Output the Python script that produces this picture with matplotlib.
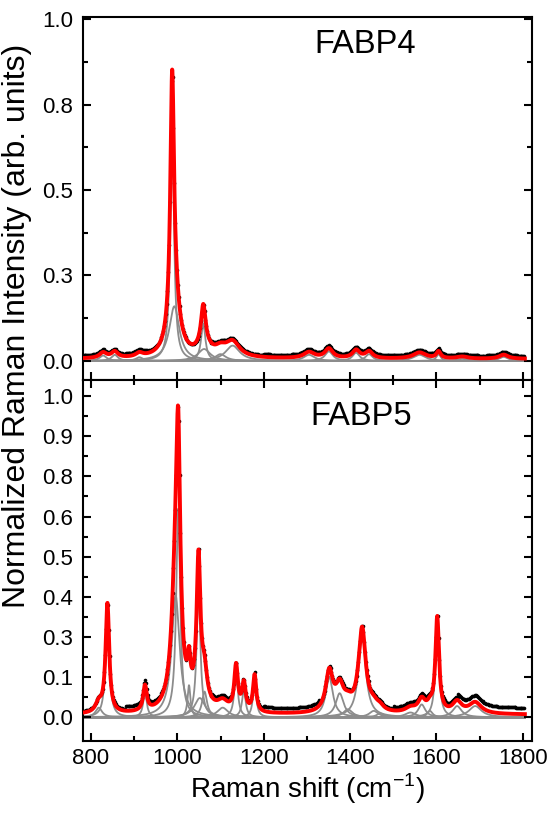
import numpy as np
import matplotlib
matplotlib.use("Agg")
import matplotlib.pyplot as plt
from matplotlib.ticker import FixedLocator, MultipleLocator

plt.rcParams['font.family'] = ['Liberation Sans', 'DejaVu Sans']

# ---------------- data ----------------
# Lorentzian components: centre (cm-1), height, FWHM (cm-1)
fabp4_centers = [828, 855, 912, 988, 993, 1060, 1062, 1100, 1128, 1305, 1351, 1414, 1444, 1561, 1605, 1660, 1756]
fabp4_heights = [0.016, 0.018, 0.011, 0.70, 0.16, 0.11, 0.035, 0.02, 0.045, 0.018, 0.028, 0.024, 0.02, 0.018, 0.02, 0.006, 0.012]
fabp4_widths = [20, 18, 20, 10, 28, 12, 35, 30, 40, 30, 22, 20, 20, 35, 12, 30, 25]
fabp4_baseline = 0.006

fabp5_centers = [818, 838, 925, 996, 1002, 1027, 1049, 1052, 1063, 1105, 1136, 1154, 1179,
                 1352, 1376, 1395, 1428, 1455, 1470, 1540, 1566, 1585, 1602, 1648, 1690]
fabp5_heights = [0.03, 0.34, 0.078, 0.38, 0.65, 0.10, 0.41, 0.06, 0.08, 0.03, 0.14, 0.085, 0.115,
                 0.125, 0.075, 0.025, 0.26, 0.02, 0.012, 0.015, 0.04, 0.02, 0.295, 0.035, 0.035]
fabp5_widths = [18, 10, 10, 22, 11, 8, 10, 30, 14, 30, 10, 10, 9,
                20, 22, 25, 20, 25, 20, 30, 20, 15, 10, 25, 35]
fabp5_baseline = 0.008

# measured points lie slightly above the fit in places: excess per spectral bin
bin_edges = [780, 830, 880, 930, 980, 1080, 1130, 1200, 1330, 1500, 1560, 1650, 1820]
fabp4_excess = [0.008, 0.006, 0.008, 0.006, 0.0, 0.006, 0.005, 0.008, 0.008, 0.008, 0.008, 0.008]
fabp5_excess = [0.005, 0.005, 0.015, 0.01, 0.0, 0.01, 0.005, 0.015, 0.005, 0.012, 0.01, 0.02]

x_start, x_stop = 783, 1805
panel_labels = ["FABP4", "FABP5"]

# ---------------- helpers ----------------
def lorentz(x, c, h, w):
    g = w / 2.0
    return h * g * g / ((x - c) ** 2 + g * g)

x_line = np.linspace(x_start, x_stop, 2000)
x_pts = np.arange(x_start, x_stop, 2.0)

fig = plt.figure(figsize=(5.5, 8.13), dpi=100)
L, R = 82.5 / 550, 532 / 550
ax_top = fig.add_axes([L, 1 - 380 / 813, R - L, (380 - 17.3) / 813])
ax_bot = fig.add_axes([L, 1 - 741 / 813, R - L, (741 - 380) / 813], sharex=ax_top)

panels = [
    (ax_top, fabp4_centers, fabp4_heights, fabp4_widths, fabp4_baseline, fabp4_excess),
    (ax_bot, fabp5_centers, fabp5_heights, fabp5_widths, fabp5_baseline, fabp5_excess),
]

for ax, cs, hs, ws, base, exc in panels:
    fit_line = np.full_like(x_line, base)
    fit_pts = np.full_like(x_pts, base)
    for c, h, w in zip(cs, hs, ws):
        comp = lorentz(x_line, c, h, w)
        ax.plot(x_line, comp, color='#8c8c8c', lw=1.3, zorder=1)
        fit_line += comp
        fit_pts += lorentz(x_pts, c, h, w)
    idx = np.clip(np.searchsorted(bin_edges, x_pts, side='right') - 1, 0, len(exc) - 1)
    pts = fit_pts + np.array(exc)[idx]
    ax.plot(x_pts, pts, 'o', color='black', ms=2.6, mew=0, zorder=2)
    ax.plot(x_line, fit_line, color='#ff0000', lw=2.8, zorder=3)

# ---------------- axes styling ----------------
ax_top.set_xlim(780.3, 1821.5)
ax_top.set_ylim(-0.0556, 1.005)
ax_bot.set_ylim(-0.0738, 1.050)

top_ticks = [0.0, 0.25, 0.5, 0.75, 1.0]
top_labels = ["0.0", "0.3", "0.5", "0.8", "1.0"]
bot_ticks = [0.0, 0.125, 0.25, 0.375, 0.5, 0.625, 0.75, 0.875, 1.0]
bot_labels = ["0.0", "0.1", "0.3", "0.4", "0.5", "0.6", "0.8", "0.9", "1.0"]

ax_top.yaxis.set_major_locator(FixedLocator(top_ticks))
ax_top.set_yticklabels(top_labels)
ax_top.yaxis.set_minor_locator(FixedLocator([0.125, 0.375, 0.625, 0.875]))
ax_bot.yaxis.set_major_locator(FixedLocator(bot_ticks))
ax_bot.set_yticklabels(bot_labels)
ax_bot.yaxis.set_minor_locator(FixedLocator([0.0625 + 0.125 * i for i in range(8)]))

for ax in (ax_top, ax_bot):
    ax.xaxis.set_major_locator(MultipleLocator(200))
    ax.xaxis.set_minor_locator(MultipleLocator(100))
    for s in ax.spines.values():
        s.set_linewidth(1.5)
    ax.tick_params(which='major', direction='in', length=6, width=1.5, labelsize=16, pad=5)
    ax.tick_params(which='minor', direction='in', length=3.5, width=1.5)
    ax.tick_params(axis='y', which='major', pad=7)

ax_top.tick_params(which='both', top=False, right=True, bottom=True, labelbottom=False)
ax_bot.tick_params(which='both', top=True, right=True, bottom=True)

ax_top.text(0.628, 0.924, panel_labels[0], transform=ax_top.transAxes,
            ha='center', va='center', fontsize=23.5)
ax_bot.text(0.62, 0.90, panel_labels[1], transform=ax_bot.transAxes,
            ha='center', va='center', fontsize=23.5)

ax_bot.set_xlabel("Raman shift (cm$^{\\mathregular{-1}}$)", fontsize=20, labelpad=2)
fig.text(17 / 550, 1 - 326 / 813, "Normalized Raman Intensity (arb. units)",
         rotation=90, ha='center', va='center', fontsize=23)

fig.savefig("out.png", dpi=100)
